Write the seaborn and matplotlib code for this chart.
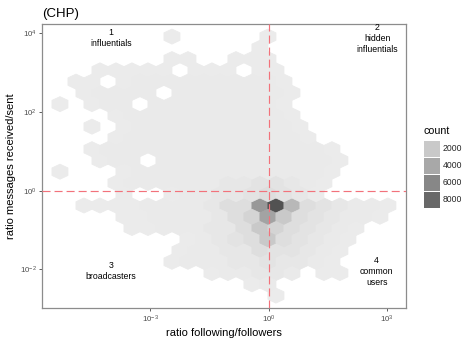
import numpy as np
import matplotlib
matplotlib.use("Agg")
import matplotlib.pyplot as plt
from matplotlib.colors import ListedColormap, Normalize
from matplotlib.patches import Patch
from matplotlib.ticker import NullLocator
import seaborn as sns

# Users binned by log10(following/followers) and log10(messages received/sent).
# One string per hexagon row, from the top row (row -15) down to row 8.
# Odd rows sit half a bin to the left of even rows; '.' is an empty bin and
# each letter stands for the user count of that bin (see level_counts).
first_row = -15
hex_rows = [
    "........a.....a........",  # -15
    ".............a.........",  # -14
    "........aa..aaa........",  # -13
    "...aaaaa.aaa.aa........",  # -12
    "..aa.abbbbbbbbba.......",  # -11
    "..abbbb.bbbbbbba.......",  # -10
    ".a.abb.bbbbbbbba.......",  # -9
    "....abbbbbbbbbba.......",  # -8
    "...a.abbbbbbbbbba......",  # -7
    "....abbbbbbbbbbba......",  # -6
    "...abbbbbbbbbbbbbba....",  # -5
    "...abb.bbbbbbbbbbba....",  # -4
    ".a...abbbbbbbbbbbba....",  # -3
    "....abbbbbbccddcba.....",  # -2
    ".....a..abbccdedca.....",  # -1
    "..aaaabbbbceejkhedcbba.",  # 0
    ".....aabbbbcefigedcbba.",  # 1
    ".....aabbbccegfedcba...",  # 2
    ".........abcdegedcba...",  # 3
    "........abbcceddcba....",  # 4
    "........abbbccdccba....",  # 5
    "..........abbccb.aa....",  # 6
    ".............ab........",  # 7
    "..............a........",  # 8
]
level_counts = {"a": 20, "b": 90, "c": 250, "d": 450, "e": 750, "f": 1300,
                "g": 2000, "h": 3000, "i": 4300, "j": 4900, "k": 9500}

x_ticks = [1e-3, 1e0, 1e3]
y_ticks = [1e-2, 1e0, 1e2, 1e4]
legend_breaks = [2000, 4000, 6000, 8000]

quadrant_text = ["1\ninfluentials", "2\nhidden\ninfluentials",
                 "3\nbroadcasters", "4\ncommon\nusers"]
quadrant_x = [1e-4, 10 ** 2.76, 1e-4, 10 ** 2.74]
quadrant_y = [10 ** 3.87, 10 ** 3.86, 10 ** -2.03, 10 ** -2.05]

# hexagon lattice (log10 units)
bin_w = 0.406
row_h = 0.2858
x_even0 = -5.50
y_row0 = -0.3756
nx, ny = 23, 13

xs, ys, cs = [], [], []
for i, row in enumerate(hex_rows):
    r = first_row + i
    ly = y_row0 - r * row_h
    x0 = x_even0 if r % 2 == 0 else x_even0 - bin_w / 2
    for k, ch in enumerate(row):
        if ch != ".":
            xs.append(10 ** (x0 + k * bin_w))
            ys.append(10 ** ly)
            cs.append(level_counts[ch])
xs, ys, cs = np.array(xs), np.array(ys), np.array(cs, float)

xmin = x_even0 - bin_w
ymin = y_row0 - 10 * row_h
extent = (xmin, xmin + nx * bin_w, ymin, ymin + ny * 2 * row_h)

# grey ramp, linear in CIE lightness
vmax = 9500
L = np.linspace(93.0, 35.05, 256)
Y = ((L + 16) / 116) ** 3
g = np.where(Y > 0.0031308, 1.055 * Y ** (1 / 2.4) - 0.055, 12.92 * Y)
cmap = ListedColormap(np.column_stack([g, g, g]))
norm = Normalize(0, vmax)

sns.set_theme(style="white")
plt.rcParams["font.family"] = ["Liberation Sans", "DejaVu Sans"]

fig = plt.figure(figsize=(4.74, 3.45), dpi=100)
ax = fig.add_axes([41.7 / 474, 1 - 308.3 / 345, (406 - 41.7) / 474, (308.3 - 24.3) / 345])

ax.hexbin(xs, ys, C=cs, reduce_C_function=np.sum, gridsize=(nx, ny),
          extent=extent, xscale="log", yscale="log", cmap=cmap, norm=norm,
          mincnt=1, linewidths=0.6, edgecolors="face", zorder=1)

ax.set_xlim(10 ** -5.761, 10 ** 3.485)
ax.set_ylim(10 ** -2.985, 10 ** 4.223)

dash = dict(color="#F2727B", linewidth=0.85, dashes=(6.8, 3.4), zorder=3)
ax.axvline(1, **dash)
ax.axhline(1, **dash)

for txt, tx, ty in zip(quadrant_text, quadrant_x, quadrant_y):
    ax.text(tx, ty, txt, ha="center", va="center", fontsize=6.3,
            linespacing=1.25, color="black", clip_on=True, zorder=4)

ax.set_xticks(x_ticks)
ax.set_yticks(y_ticks)
ax.xaxis.set_minor_locator(NullLocator())
ax.yaxis.set_minor_locator(NullLocator())
ax.tick_params(axis="both", which="major", length=2.3, width=0.6,
               color="#444444", labelsize=5.7, labelcolor="#4D4D4D", pad=1.5,
               bottom=True, left=True)
for sp in ax.spines.values():
    sp.set_color("#8C8C8C")
    sp.set_linewidth(0.9)
ax.grid(False)

ax.set_xlabel("ratio following/followers", fontsize=8, color="black")
ax.set_ylabel("ratio messages received/sent", fontsize=8, color="black")
ax.xaxis.set_label_coords(0.5, -0.087)
ax.xaxis.label.set_va("center")
ax.yaxis.set_label_coords(-0.084, 0.5)
ax.yaxis.label.set_va("center")

ax.set_title("(CHP)", loc="left", fontsize=9.5, pad=5, color="black")

# fill legend
fig.text(424 / 474, 1 - 131 / 345, "count", ha="left", va="center",
         fontsize=7.7, color="black")
handles = [Patch(facecolor=cmap(norm(v)), edgecolor="none", label=f"{v}")
           for v in legend_breaks]
fig.legend(handles=handles, loc="upper left",
           bbox_to_anchor=(424 / 474, 1 - 140.5 / 345), frameon=False,
           fontsize=6.2, handlelength=1.86, handleheight=2.485,
           handletextpad=0.35, labelspacing=0.12,
           borderpad=0, borderaxespad=0)

fig.savefig("out.png", dpi=100)
